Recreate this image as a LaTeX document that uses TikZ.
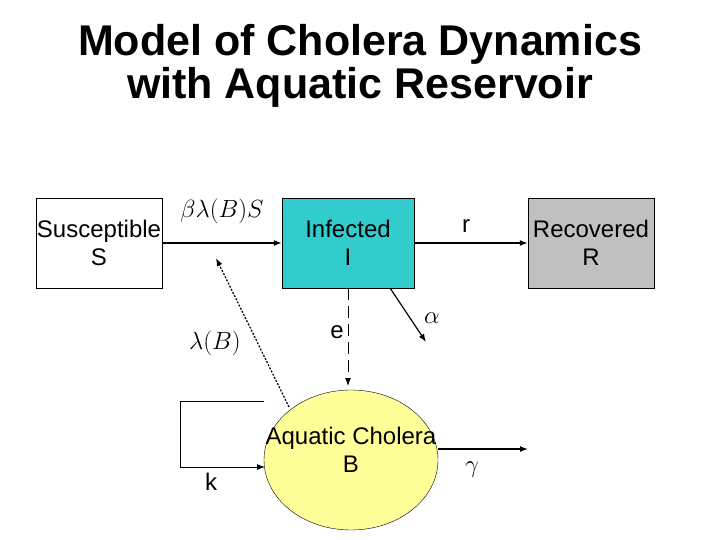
\documentclass[tikz,border=0pt]{standalone}
\usepackage{fontspec}
\setmainfont{Liberation Sans}
\usetikzlibrary{shapes.geometric,arrows.meta}
\begin{document}
\begin{tikzpicture}[x=1pt,y=-1pt,
  box/.style={draw,minimum width=126pt,minimum height=90pt,align=center,font=\fontsize{24}{28}\selectfont,inner sep=0},
  lbl/.style={font=\fontsize{24}{28}\selectfont},
  mlbl/.style={font=\fontsize{25}{28}\selectfont},
  arr/.style={-{Latex[length=8pt,width=6pt]},line width=1.2pt}]
\useasboundingbox (0,0) rectangle (720,540);
\definecolor{teal2}{RGB}{51,204,204}
\definecolor{gray2}{RGB}{192,192,192}
\definecolor{yel}{RGB}{255,255,153}
\node[font=\fontsize{43}{43}\selectfont\bfseries,align=center] (title) at (360,66) {Model of Cholera Dynamics\\with Aquatic Reservoir};
\node[box] (S) at (99,243) {Susceptible\\S};
\node[box,fill=teal2,minimum width=132pt] (I) at (348,243) {Infected\\I};
\node[box,fill=gray2] (R) at (591,243) {Recovered\\R};
\node[draw,ellipse,fill=yel,minimum width=174pt,minimum height=140pt,inner sep=0] (B) at (351,460) {};
\node[align=center,font=\fontsize{24}{28}\selectfont] (Bt) at (351,450) {Aquatic Cholera\\B};
\draw[arr] (S.east) -- (I.west);
\draw[arr] (I.east) -- (R.west);
\draw[arr,dash pattern=on 12pt off 6pt,line width=0.9pt] (348,288) -- (348,386);
\coordinate (a1) at (426,342);
\draw[arr] (390,288) -- (a1);
\coordinate (l1) at (216,258);
\draw[arr,dash pattern=on 2pt off 1.5pt,line width=1.2pt] (289,407) -- (l1);
\coordinate (k1) at (180,401);
\coordinate (k2) at (180,467);
\draw[arr,line width=0.9pt] (264,401) -- (k1) -- (k2) -- (265,467);
\coordinate (g1) at (528,449);
\draw[arr] (438,449) -- (g1);
\node[mlbl] (bl) at (222,211) {$\beta\lambda(B)S$};
\node[lbl] (r) at (466,226) {r};
\node[lbl] (e) at (337,332) {e};
\node[mlbl] (al) at (432,318) {$\alpha$};
\node[mlbl] (lb) at (215,343) {$\lambda(B)$};
\node[lbl] (k) at (211,482) {k};
\node[mlbl] (g) at (472,470) {$\gamma$};
\end{tikzpicture}
\end{document}
